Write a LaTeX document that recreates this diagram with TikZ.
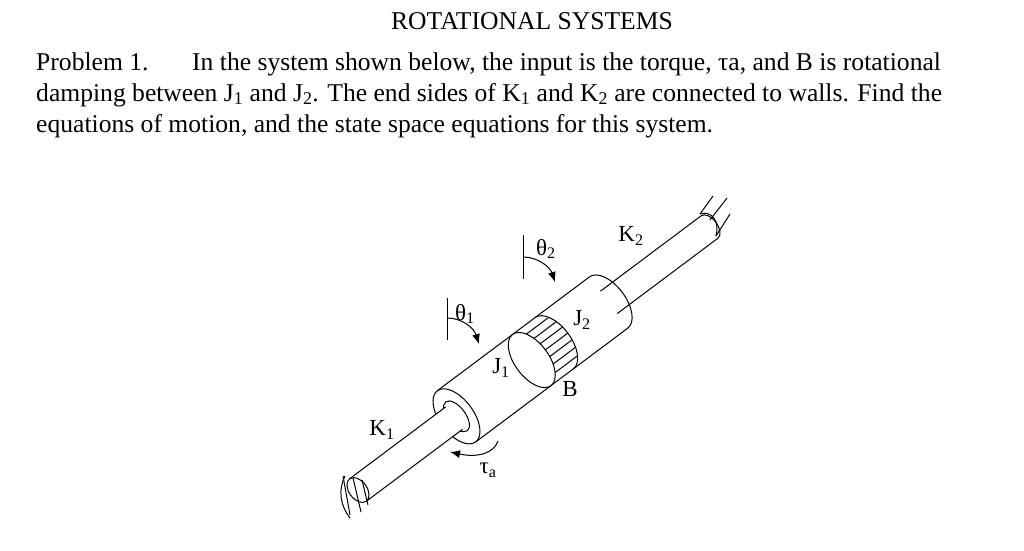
\documentclass[tikz,border=0pt]{standalone}
\usepackage{fontspec}
\setmainfont{Liberation Serif}
\tikzset{txt/.style={font=\fontsize{25.6}{30}\selectfont,inner sep=0pt},
lbl/.style={font=\fontsize{23}{27}\selectfont,inner sep=0pt},
ln/.style={line width=1pt},
arr/.style={line width=1pt,-{Latex[length=10pt,width=8pt]}}}
\usetikzlibrary{arrows.meta}
\begin{document}
\begin{tikzpicture}[x=1pt,y=-1pt]
\useasboundingbox (0,0) rectangle (1024,550);
\node[txt] (title) at (532,21) {ROTATIONAL SYSTEMS};
\node[txt,anchor=base west] (p) at (36,70) {Problem 1.};
\node[txt,anchor=base west] (l1) at (192,70) {In the system shown below, the input is the torque, τa, and B is rotational};
\node[txt,anchor=base west] (l2) at (36,101) {damping between J\textsubscript{1} and J\textsubscript{2}. The end sides of K\textsubscript{1} and K\textsubscript{2} are connected to walls. Find the};
\node[txt,anchor=base west] (l3) at (36,132) {equations of motion, and the state space equations for this system.};
\begin{scope}[shift={(358,490)},rotate=36.8,ln]
\fill[white] (313,-14) rectangle (439,14);
\draw (313,-14) -- (439,-14) (313,14) -- (439,14);
\draw (439,14) arc[start angle=90,end angle=-90,x radius=8,y radius=14];
\fill[white] (245,-32) rectangle (313,32);
\draw (245,-32) -- (313,-32) (245,32) -- (313,32);
\draw (313,32) arc[start angle=90,end angle=-90,x radius=17,y radius=32];
\fill[white] (217,-32) rectangle (245,32);
\draw (217,-32) -- (245,-32) (217,32) -- (245,32);
\fill[white] (245,32) arc[start angle=90,end angle=-90,x radius=17,y radius=32];
\draw (245,32) arc[start angle=90,end angle=-90,x radius=17,y radius=32];
\foreach \y in {-24,-16,-8,0,8,16,24}
  \draw (228,\y) -- ({245+17*sqrt(1-(\y/32)^2)},\y);
\fill[white] (123,-32) rectangle (217,32);
\draw (123,-32) -- (217,-32) (123,32) -- (217,32);
\draw[fill=white] (217,0) ellipse[x radius=17,y radius=32];
\draw[fill=white] (123,0) ellipse[x radius=17,y radius=32];
\draw[fill=white] (123,0) ellipse[x radius=9,y radius=18];
\fill[white] (0,-14) rectangle (120,14);
\draw (0,-14) -- (120,-14) (0,14) -- (120,14);
\draw[fill=white] (0,0) ellipse[x radius=9,y radius=14];
\end{scope}
\draw[ln] (343,476) -- (350,515) (353,478) -- (361,512) (362,480) -- (368,505);
\draw[ln] (345,476) .. controls (338,490) and (340,505) .. (350,518);
\draw[ln] (700,214) -- (713,196) (710,220) -- (727,198) (716,236) -- (730,214);
\draw[ln] (700,214) .. controls (712,210) and (720,222) .. (716,236);
\draw[ln] (447,298) -- (447,340);
\draw[arr] (447,318) .. controls (462,318) and (474,328) .. (479,344);
\node[lbl] (t1) at (465,314) {θ\textsubscript{1}};
\draw[ln] (523,235) -- (523,279);
\draw[arr] (523,257) .. controls (538,257) and (550,267) .. (555,282);
\node[lbl] (t2) at (546,249) {θ\textsubscript{2}};
\draw[arr] (498,441) .. controls (494,453) and (478,458) .. (450,452);
\node[lbl] (ta) at (488,470) {τ\textsubscript{a}};
\node[lbl] (k1) at (382,430) {K\textsubscript{1}};
\node[lbl] (k2) at (631,236) {K\textsubscript{2}};
\node[lbl] (j1) at (501,368) {J\textsubscript{1}};
\node[lbl] (j2) at (582,320) {J\textsubscript{2}};
\node[lbl] (b) at (570,389) {B};
\end{tikzpicture}
\end{document}
